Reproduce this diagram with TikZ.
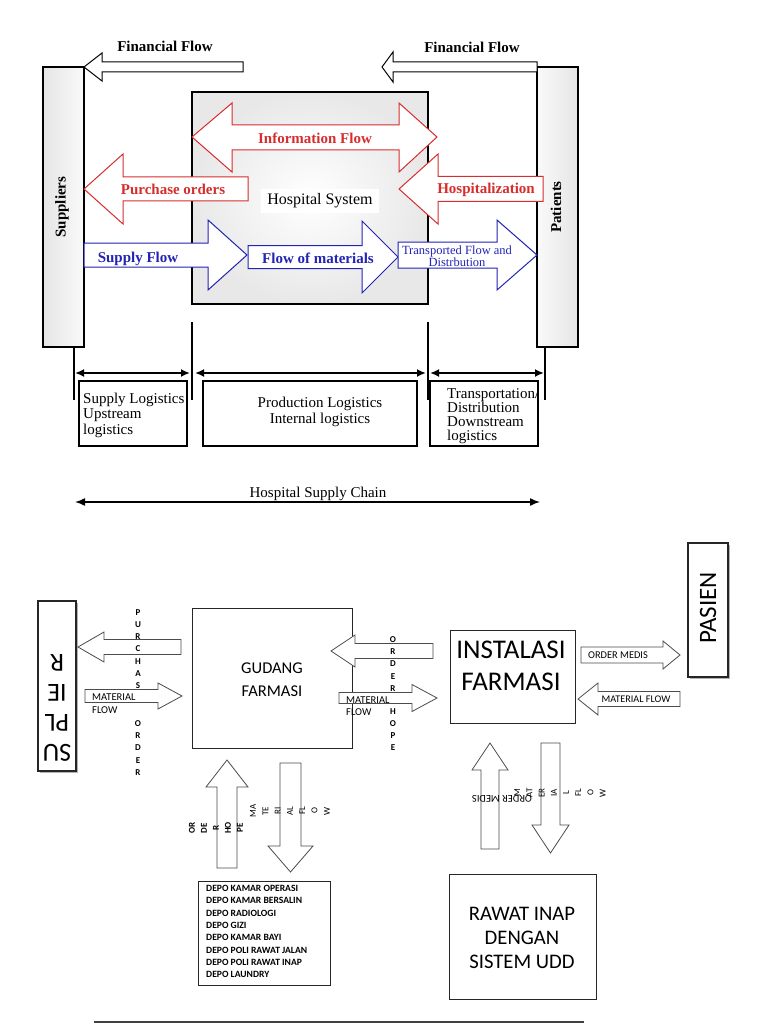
\documentclass[tikz,border=0pt]{standalone}
\usepackage{fontspec}
\setmainfont{Liberation Serif}
\newfontfamily\calib{Carlito}
\usetikzlibrary{arrows.meta}
\definecolor{hred}{RGB}{215,45,45}
\definecolor{hblue}{RGB}{35,35,180}
% horizontal block arrow: style, x start, x head base, x tip, y centre, shaft half, head half
\newcommand\blkH[7]{\draw[#1] (#2,#5-#6) -- (#3,#5-#6) -- (#3,#5-#7) -- (#4,#5) -- (#3,#5+#7) -- (#3,#5+#6) -- (#2,#5+#6) -- cycle;}
% vertical block arrow: style, y start, y head base, y tip, x centre, shaft half, head half
\newcommand\blkV[7]{\draw[#1] (#5-#6,#2) -- (#5-#6,#3) -- (#5-#7,#3) -- (#5,#4) -- (#5+#7,#3) -- (#5+#6,#3) -- (#5+#6,#2) -- cycle;}
\begin{document}
\begin{tikzpicture}[x=1pt,y=-1pt,
 bar/.style={draw=black, line width=1.5pt, inner sep=0},
 tbox/.style={draw=black, line width=1.5pt, inner sep=0},
 blk/.style={draw=black, fill=white, line width=1pt},
 redblk/.style={draw=hred, fill=white, line width=1pt},
 blueblk/.style={draw=hblue, fill=white, line width=1pt},
 sfont/.style={font=\fontsize{15}{15}\selectfont, inner sep=0},
 sbold/.style={font=\fontsize{15}{15}\selectfont\bfseries, inner sep=0},
 redlbl/.style={sbold, text=hred},
 bluelbl/.style={sbold, text=hblue},
 dimarr/.style={line width=2pt, {Latex[length=9pt,width=8pt]}-{Latex[length=9pt,width=8pt]}},
 gbox/.style={draw=black!85, line width=1pt, inner sep=0, fill=white},
 garr/.style={draw=black!70, fill=white, line width=0.8pt},
 cal/.style 2 args={font=\calib\fontsize{#1}{#2}\selectfont, inner sep=0},
 calb/.style 2 args={font=\calib\fontsize{#1}{#2}\selectfont\bfseries, inner sep=0},
]
\useasboundingbox (0,0) rectangle (768,1024);
\fill[white] (0,0) rectangle (768,1024);

%================ TOP DIAGRAM ================
% side bars
\node[bar, minimum width=41pt, minimum height=280pt, left color=gray!20, right color=gray!4] (sup) at (63.5,207) {};
\node[sbold, rotate=90] (suptxt) at (62,207) {Suppliers};
\node[bar, minimum width=41pt, minimum height=280pt, left color=gray!4, right color=gray!20] (pat) at (557.5,207) {};
\node[sbold, rotate=90] (pattxt) at (556,207) {Patients};

% hospital system box
\node[draw, line width=1.8pt, minimum width=236pt, minimum height=212pt, inner color=white, outer color=gray!18] (hs) at (310,198) {};
\node[font=\fontsize{16}{16}\selectfont, fill=white, inner xsep=6pt, inner ysep=5pt, anchor=base] (hstxt) at (320,205) {Hospital System};

% financial flows
\blkH{blk}{243}{102}{84}{67}{5}{14}
\node[sbold, anchor=base] (ff1) at (165,52) {Financial Flow};
\blkH{blk}{537}{393}{382}{67}{5}{15}
\node[sbold, anchor=base] (ff2) at (472,53) {Financial Flow};

% information flow (double block arrow)
\draw[redblk] (192,137) -- (232,103) -- (232,125) -- (399,125) -- (399,103) -- (437,137)
  -- (399,172) -- (399,150) -- (232,150) -- (232,172) -- cycle;
\node[redlbl, anchor=base] (inf) at (315,144) {Information Flow};

% purchase orders / hospitalization
\blkH{redblk}{248}{123}{84}{189}{12}{35}
\node[redlbl, anchor=base] (po) at (173,195) {Purchase orders};
\blkH{redblk}{543}{438}{399}{189}{12.5}{35}
\node[redlbl, anchor=base] (hosp) at (486,194) {Hospitalization};

% blue flows
\blkH{blueblk}{84}{208}{247}{255}{12}{35}
\node[bluelbl, anchor=base] (sf) at (138,262) {Supply Flow};
\blkH{blueblk}{248}{362}{398}{257}{11.5}{36}
\node[bluelbl, anchor=base] (fm) at (318,263) {Flow of materials};
\blkH{blueblk}{398}{497}{537}{255}{13}{35}
\node[font=\fontsize{12.5}{12}\selectfont, text=hblue, inner sep=0, align=center, anchor=base] (tf) at (457,266) {Transported Flow and\\Distrbution};

% ticks below
\coordinate (t1a) at (74,347);  \coordinate (t1b) at (74,400);
\coordinate (t2a) at (192,322); \coordinate (t2b) at (192,400);
\coordinate (t3a) at (428,322); \coordinate (t3b) at (428,400);
\coordinate (t4a) at (545,347); \coordinate (t4b) at (545,400);
\draw[line width=1.5pt] (t1a) -- (t1b);
\draw[line width=1.5pt] (t2a) -- (t2b);
\draw[line width=1.5pt] (t3a) -- (t3b);
\draw[line width=1.5pt] (t4a) -- (t4b);

\coordinate (d1a) at (75,373);  \coordinate (d1b) at (190,373);
\coordinate (d2a) at (195,373); \coordinate (d2b) at (426,373);
\coordinate (d3a) at (430,373); \coordinate (d3b) at (544,373);
\draw[dimarr] (d1a) -- (d1b);
\draw[dimarr] (d2a) -- (d2b);
\draw[dimarr] (d3a) -- (d3b);

% logistics boxes
\node[tbox, minimum width=108pt, minimum height=65pt] (slb) at (133,413.5) {};
\node[font=\fontsize{15}{15.5}\selectfont, inner sep=0, align=left, anchor=base west] (slt) at (83,434) {Supply Logistics\\Upstream\\logistics};
\node[tbox, minimum width=214pt, minimum height=65pt] (plb) at (310,413.5) {};
\node[font=\fontsize{15}{16}\selectfont, inner sep=0, align=center, anchor=base] (plt) at (320,423) {Production Logistics\\Internal logistics};
\node[tbox, minimum width=108pt, minimum height=65pt] (tlb) at (484,413.5) {};
\node[font=\fontsize{15}{14}\selectfont, inner sep=0, align=left, anchor=base west] (tlt) at (447,440) {Transportation/\\Distribution\\Downstream\\logistics};

% hospital supply chain
\coordinate (hca) at (75,502); \coordinate (hcb) at (540,502);
\draw[line width=1.5pt, {Latex[length=10pt,width=8pt]}-{Latex[length=10pt,width=8pt]}] (hca) -- (hcb);
\node[font=\fontsize{15}{15}\selectfont, inner sep=0, anchor=base] (hsc) at (318,497) {Hospital Supply Chain};

%================ BOTTOM DIAGRAM ================
% SUPPLIER box
\fill[gray!60] (40,603) rectangle (78,773);
\node[gbox, line width=1.3pt, minimum width=38pt, minimum height=170pt] (supb) at (57,686) {};
\node[cal={26}{30}, rotate=180, align=center] (supbtxt) at (57,708) {SU\\PL\\IE\\R};

% PASIEN box
\fill[gray!60] (690,545) rectangle (730,679);
\node[gbox, line width=1.3pt, minimum width=40pt, minimum height=134pt] (pas) at (708,610) {};
\node[cal={25}{25}, rotate=90] (pastxt) at (708,608) {PASIEN};

% main boxes
\node[gbox, minimum width=160pt, minimum height=140pt] (gud) at (272,678) {};
\node[cal={16.5}{23}, align=center, anchor=base] (gudtxt) at (272,696) {GUDANG\\FARMASI};
\node[gbox, minimum width=125pt, minimum height=93pt] (inst) at (512.5,676.5) {};
\node[cal={27}{32}, align=center, anchor=base] (insttxt) at (511,690) {INSTALASI\\FARMASI};
\node[gbox, minimum width=132pt, minimum height=104pt] (depo) at (264,933) {};
\node[calb={9.6}{12.3}, align=left, anchor=north west] (depotxt) at (206,885) {DEPO KAMAR OPERASI\\DEPO KAMAR BERSALIN\\DEPO RADIOLOGI\\DEPO GIZI\\DEPO KAMAR BAYI\\DEPO POLI RAWAT JALAN\\DEPO POLI RAWAT INAP\\DEPO LAUNDRY};
\node[gbox, minimum width=147pt, minimum height=125pt] (rawat) at (522.5,936.5) {};
\node[cal={20.7}{24}, align=center, anchor=base] (rawattxt) at (522,968) {RAWAT INAP\\DENGAN\\SISTEM UDD};

% horizontal block arrows
\blkH{garr}{181}{104}{78}{647}{7.5}{15}
\blkH{garr}{85}{158}{182}{696}{6.5}{13}
\blkH{garr}{433}{355}{331}{651}{7.5}{16}
\blkH{garr}{339}{412}{437}{698}{5.5}{13.5}
\blkH{garr}{581}{663}{680}{655}{8}{14}
\blkH{garr}{680}{598}{578}{699}{7.5}{16}
% vertical block arrows
\blkV{garr}{868}{787}{760}{227}{10}{21}
\blkV{garr}{763}{846}{872}{290.5}{10.5}{22.5}
\blkV{garr}{849}{770}{743}{490}{9}{18}
\blkV{garr}{743}{825}{853}{550.5}{9.5}{18.5}

% vertical letter stacks (drawn over the arrows)
\node[calb={9}{12.3}, align=center, anchor=north] (pur1) at (138,609) {P\\U\\R\\C\\H\\A\\S};
\node[calb={9}{12.3}, align=center, anchor=north] (pur2) at (138,720) {O\\R\\D\\E\\R};
\node[calb={9}{12.3}, align=center, anchor=north] (oh1) at (393,636) {O\\R\\D\\E\\R};
\node[calb={9}{12.3}, align=center, anchor=north] (oh2) at (393,708) {H\\O\\P\\E};

% arrow labels
\node[cal={10.5}{13}, align=left, anchor=north west] (mf1) at (92,694) {MATERIAL\\FLOW};
\node[cal={10.5}{11.5}, align=left, anchor=north west] (mf2) at (346,697) {MATERIAL\\FLOW};
\node[cal={10.4}{12}] (om1) at (618,655) {ORDER MEDIS};
\node[cal={10.2}{12}] (mf3) at (636,699) {MATERIAL FLOW};
\node[calb={9}{12}, rotate=90, align=center] (ohv) at (216,828) {OR\\DE\\R\\HO\\PE};
\node[cal={9}{12.3}, rotate=90, align=center] (mfv) at (290,811) {MA\\TE\\RI\\AL\\FL\\O\\W};
\node[cal={10.4}{12}, rotate=180] (omv) at (502,799) {ORDER MEDIS};
\node[cal={9}{12.2}, rotate=90, align=center] (mfv2) at (560,793) {M\\AT\\ER\\IA\\L\\FL\\O\\W};

% bottom rule
\coordinate (rulea) at (94,1022); \coordinate (ruleb) at (584,1022);
\draw[black!75, line width=1.5pt] (rulea) -- (ruleb);
\end{tikzpicture}
\end{document}
